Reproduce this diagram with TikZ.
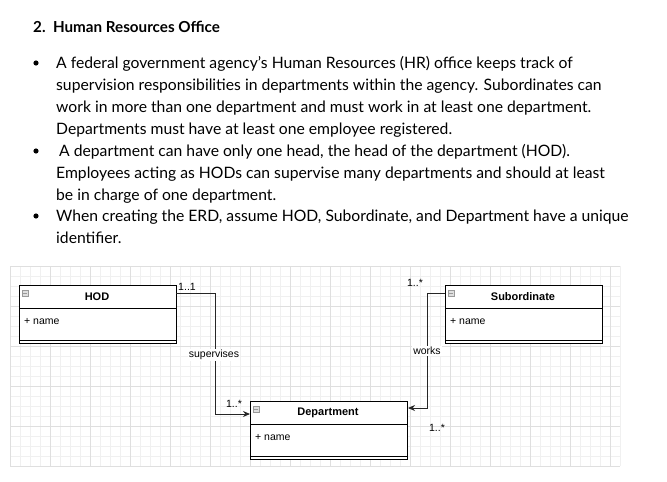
\documentclass[tikz,border=0pt]{standalone}
\usepackage{fontspec}
\setmainfont{Lato}
\newfontfamily\dfont{Liberation Sans}
\usetikzlibrary{arrows.meta}
\begin{document}
\begin{tikzpicture}[x=1pt,y=-1pt,
  tline/.style={anchor=base west,inner sep=0pt,font=\fontsize{15.7}{17}\selectfont},
  dtxt/.style={inner sep=0pt,font=\dfont\fontsize{10.5}{12}\selectfont},
  dbold/.style={inner sep=0pt,font=\dfont\bfseries\fontsize{11}{12}\selectfont},
  conn/.style={draw=black!85,line width=0.9pt,-{Stealth[length=7pt,width=6pt]}},
  ico/.style={draw=gray!80,fill=gray!25,line width=0.5pt,minimum size=6pt,inner sep=0pt}]
\useasboundingbox (0,0) rectangle (667,482);
\fill[white] (0,0) rectangle (667,482);
% grid
\foreach \x in {10,20,...,620} \draw[gray!12,line width=0.4pt] (\x,266) -- (\x,466);
\foreach \y in {266,276,...,466} \draw[gray!12,line width=0.4pt] (10,\y) -- (620,\y);
\foreach \x in {10,50,...,610} \draw[gray!25,line width=0.5pt] (\x,266) -- (\x,466);
\foreach \y in {266,306,...,466} \draw[gray!25,line width=0.5pt] (10,\y) -- (620,\y);
% text
\node[tline,font=\bfseries\fontsize{15.2}{17}\selectfont] (title) at (33,32) {2.\ \ Human Resources Office};
\foreach \y in {63,151,216} \fill (36,\y) circle (2.6pt);
\node[tline] (l1) at (56,68) {A federal government agency's Human Resources (HR) office keeps track of};
\node[tline] (l2) at (56,90) {supervision responsibilities in departments within the agency. Subordinates can};
\node[tline] (l3) at (56,112) {work in more than one department and must work in at least one department.};
\node[tline] (l4) at (56,134) {Departments must have at least one employee registered.};
\node[tline] (l5) at (59,156) {A department can have only one head, the head of the department (HOD).};
\node[tline] (l6) at (56,178) {Employees acting as HODs can supervise many departments and should at least};
\node[tline] (l7) at (56,200) {be in charge of one department.};
\node[tline] (l8) at (56,221) {When creating the ERD, assume HOD, Subordinate, and Department have a unique};
\node[tline] (l9) at (56,243) {identifier.};
% boxes
\foreach \n/\x/\y/\t in {hod/19/285/HOD, sub/445/285/Subordinate, dep/250/401/Department}{
  \fill[white] (\x,\y) rectangle (\x+157,\y+58);
  \draw[line width=0.9pt] (\x,\y) rectangle (\x+157,\y+58);
  \draw[line width=0.9pt] (\x,\y+23) -- (\x+157,\y+23);
  \draw[line width=0.9pt] (\x,\y+55) -- (\x+157,\y+55);
  \node[ico] (\n i) at (\x+6,\y+8) {};
  \draw[gray!80,line width=0.6pt] (\x+4,\y+8) -- (\x+8,\y+8);
  \node[dbold] (\n) at (\x+78,\y+12) {\t};
  \node[dtxt,anchor=west] (\n a) at (\x+5,\y+37) {+ name};
  \coordinate (\n L) at (\x,\y+13);
  \coordinate (\n R) at (\x+157,\y+8);
}
\coordinate (hk) at (215,293);
\coordinate (hk2) at (215,414);
\draw[conn] (hodR) -- (hk) -- (hk2) -- (depL);
\coordinate (subE) at (445,293);
\coordinate (sk) at (427,293);
\coordinate (sk2) at (427,408);
\coordinate (depE) at (408,408);
\draw[conn] (subE) -- (sk) -- (sk2) -- (depE);
\node[dtxt,fill=white,inner sep=1pt] (sup) at (214,355) {supervises};
\node[dtxt,fill=white,inner sep=1pt] (wk) at (427,351) {works};
\node[dtxt] (m1) at (187,287) {1..1};
\node[dtxt] (m2) at (234,404) {1..*};
\node[dtxt] (m3) at (415,283) {1..*};
\node[dtxt] (m4) at (437,428) {1..*};
\end{tikzpicture}
\end{document}
